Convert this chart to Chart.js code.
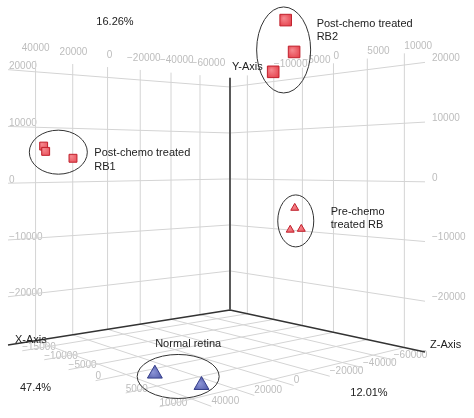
<!DOCTYPE html>
<html>
<head>
<meta charset="utf-8">
<script src="https://cdn.jsdelivr.net/npm/chart.js@4.4.1/dist/chart.umd.min.js"></script>
<style>
  html, body { margin: 0; padding: 0; background: #fff; }
  .chartBox { width: 474px; height: 418px; }
</style>
</head>
<body>
<div class="chartBox"><canvas id="pcaChart"></canvas></div>
<script>
// PCA scores: X = PC1, Y = PC2, Z = PC3
const rb2X = [-21900, -26900, -27300];
const rb2Y = [26000, 21100, 18400];
const rb2Z = [6400, 6400, 3300];

const rb1X = [46000, 45000, 34600];
const rb1Y = [6400, 5500, 4300];
const rb1Z = [-13800, -13800, -12300];

const preX = [-54000, -51000, -58400];
const preY = [-4750, -8600, -8600];
const preZ = [200, 200, 200];

const normalX = [39200, 35200];
const normalY = [-27000, -27000];
const normalZ = [4400, 9900];

const xTicks = [-60000, -40000, -20000, 0, 20000, 40000];
const yTicks = [-20000, -10000, 0, 10000, 20000];
const zTicks = [-15000, -10000, -5000, 0, 5000, 10000];
const zTopTicks = [-10000, -5000, 0, 5000, 10000];

const varianceX = "47.4%";
const varianceY = "16.26%";
const varianceZ = "12.01%";

// extent of the 3D box
const xRange = [-82000, 54000];
const yRange = [-28500, 22000];
const zRange = [-18500, 12600];

// simple perspective camera (screen units = canvas pixels)
const view = {
  origin: [230, 310],
  xEnd: [8, 345], xDepth: 0.81,
  zEnd: [425, 352], zDepth: 0.77,
  yTop: 77.8
};

function project(X, Y, Z) {
  const a = (X - xRange[0]) / (xRange[1] - xRange[0]);
  const b = (Y - yRange[0]) / (yRange[1] - yRange[0]);
  const c = (Z - zRange[0]) / (zRange[1] - zRange[0]);
  const [ox, oy] = view.origin;
  const u = ox + a * (view.xDepth * view.xEnd[0] - ox) + c * (view.zDepth * view.zEnd[0] - ox);
  const v = oy + a * (view.xDepth * view.xEnd[1] - oy) + c * (view.zDepth * view.zEnd[1] - oy) + b * (view.yTop - oy);
  const w = 1 + a * (view.xDepth - 1) + c * (view.zDepth - 1);
  return { x: u / w, y: v / w };
}

function segments(list) {
  const out = [];
  list.forEach(([p, q]) => out.push(p, q, { x: NaN, y: NaN }));
  return out;
}

function cluster(xs, ys, zs) {
  return xs.map((X, i) => project(X, ys[i], zs[i]));
}

const [x0, x1] = xRange, [y0, y1] = yRange, [z0, z1] = zRange;

const gridLines = [];
yTicks.forEach(Y => {
  gridLines.push([project(x0, Y, z0), project(x1, Y, z0)]);
  gridLines.push([project(x0, Y, z0), project(x0, Y, z1)]);
});
xTicks.forEach(X => {
  gridLines.push([project(X, y0, z0), project(X, y1, z0)]);
  gridLines.push([project(X, y0, z0), project(X, y0, z1)]);
});
zTicks.forEach(Z => {
  gridLines.push([project(x0, y0, Z), project(x0, y1, Z)]);
  gridLines.push([project(x0, y0, Z), project(x1, y0, Z)]);
});

const fmt = v => (v < 0 ? "\u2212" : "") + Math.abs(v);

function markerFill(base, light) {
  return (c) => {
    if (!c.raw || !c.chart.chartArea) return base;
    const { x, y } = c.chart.scales;
    const px = x.getPixelForValue(c.raw.x), py = y.getPixelForValue(c.raw.y);
    if (!isFinite(px) || !isFinite(py)) return base;
    const g = c.chart.ctx.createRadialGradient(px - 2, py - 2, 0, px, py, 9);
    g.addColorStop(0, light);
    g.addColorStop(1, base);
    return g;
  };
}
const redFill = markerFill("#e23440", "#f68a90");
const blueFill = markerFill("#4b55a6", "#8e97d8");

const tickLabels = {
  id: "tickLabels",
  beforeDatasetsDraw(chart) {
    const { ctx, scales: { x, y } } = chart;
    const put = (text, p, dx, dy, align) => {
      ctx.textAlign = align;
      ctx.fillText(text, x.getPixelForValue(p.x) + dx, y.getPixelForValue(p.y) + dy);
    };
    ctx.save();
    ctx.font = '10px "Liberation Sans", Arial, sans-serif';
    ctx.fillStyle = "#bdbdbd";
    ctx.textBaseline = "middle";
    yTicks.forEach(Y => {
      put(fmt(Y), project(x1, Y, z0), 1, -3, "left");
      put(fmt(Y), project(x0, Y, z1), 7, -4, "left");
    });
    xTicks.forEach(X => {
      const a = (X - x0) / (x1 - x0);
      put(fmt(X), project(X, y1, z0), 12 * (1 - a) * (1 - a), -12, "center");
      put(fmt(X), project(X, y0, z1), 0, -5, "left");
    });
    zTopTicks.forEach(Z => put(fmt(Z), project(x0, y1, Z), 0, -7, "left"));
    zTicks.forEach(Z => put(fmt(Z), project(x1, y0, Z), 0, -4, "left"));
    ctx.restore();
  }
};

const annotations = {
  id: "annotations",
  afterDatasetsDraw(chart, args, opts) {
    const { ctx, scales: { x, y } } = chart;
    ctx.save();
    ctx.font = '11px "Liberation Sans", Arial, sans-serif';
    ctx.fillStyle = "#222";
    ctx.textBaseline = "middle";
    ctx.textAlign = "left";
    opts.axisTitles.forEach(t => {
      const p = project(...t.at);
      ctx.fillText(t.text, x.getPixelForValue(p.x) + t.dx, y.getPixelForValue(p.y) + t.dy);
    });
    ctx.textAlign = "center";
    opts.variance.forEach(t => ctx.fillText(t.text, t.x, t.y));

    ctx.strokeStyle = "#333";
    ctx.lineWidth = 1;
    opts.rings.forEach(r => {
      const pts = chart.getDatasetMeta(r.dataset).data;
      const xs = pts.map(p => p.x), ys = pts.map(p => p.y);
      const cx = (Math.min(...xs) + Math.max(...xs)) / 2;
      const cy = (Math.min(...ys) + Math.max(...ys)) / 2 + r.shift;
      ctx.beginPath();
      ctx.ellipse(cx, cy, r.rx, r.ry, 0, 0, Math.PI * 2);
      ctx.stroke();
      ctx.textAlign = r.align;
      r.text.forEach((line, i) => ctx.fillText(line, cx + r.dx, cy + r.dy + i * 13.5));
    });
    ctx.restore();
  }
};

new Chart(document.getElementById("pcaChart"), {
  type: "scatter",
  data: {
    datasets: [
      { label: "Post-chemo treated RB2", data: cluster(rb2X, rb2Y, rb2Z), pointStyle: "rect",
        pointRadius: 8.2, pointBackgroundColor: redFill, pointBorderColor: "#c0202c", pointBorderWidth: 1, order: 0 },
      { label: "Post-chemo treated RB1", data: cluster(rb1X, rb1Y, rb1Z), pointStyle: "rect",
        pointRadius: 5.6, pointBackgroundColor: redFill, pointBorderColor: "#c0202c", pointBorderWidth: 1, order: 0 },
      { label: "Pre-chemo treated RB", data: cluster(preX, preY, preZ), pointStyle: "triangle",
        pointRadius: 4.6, pointBackgroundColor: redFill, pointBorderColor: "#c0202c", pointBorderWidth: 1, order: 0 },
      { label: "Normal retina", data: cluster(normalX, normalY, normalZ), pointStyle: "triangle",
        pointRadius: 8.6, pointBackgroundColor: blueFill, pointBorderColor: "#353e8a", pointBorderWidth: 1, order: 0 },
      { label: "Y axis", data: segments([[project(x0, y0, z0), project(x0, y1, z0)]]),
        showLine: true, pointRadius: 0, borderColor: "#5a5a5a", borderWidth: 2, order: 1 },
      { label: "X / Z axes", data: segments([[project(x0, y0, z0), project(x1, y0, z0)], [project(x0, y0, z0), project(x0, y0, z1)]]),
        showLine: true, pointRadius: 0, borderColor: "#333", borderWidth: 1.4, order: 1 },
      { label: "grid", data: segments(gridLines),
        showLine: true, pointRadius: 0, borderColor: "#d4d4d4", borderWidth: 1, order: 2 }
    ]
  },
  options: {
    responsive: true,
    maintainAspectRatio: false,
    animation: false,
    layout: { padding: 0, autoPadding: false },
    scales: {
      x: { type: "linear", min: 0, max: 474, display: false },
      y: { type: "linear", min: 0, max: 418, reverse: true, display: false }
    },
    plugins: {
      legend: { display: false },
      tooltip: { enabled: false },
      annotations: {
        axisTitles: [
          { text: "X-Axis", at: [x1, y0, z0], dx: 7, dy: -5 },
          { text: "Y-Axis", at: [x0, y1, z0], dx: 2, dy: -11 },
          { text: "Z-Axis", at: [x0, y0, z1], dx: 5, dy: -7 }
        ],
        variance: [
          { text: varianceY, x: 115, y: 22 },
          { text: varianceX, x: 35.5, y: 388 },
          { text: varianceZ, x: 369, y: 393 }
        ],
        rings: [
          { dataset: 0, rx: 27, ry: 43, shift: 4, text: ["Post-chemo treated", "RB2"], dx: 33, dy: -26, align: "left" },
          { dataset: 1, rx: 29, ry: 22, shift: 0, text: ["Post-chemo treated", "RB1"], dx: 36, dy: 1, align: "left" },
          { dataset: 2, rx: 18, ry: 26, shift: 2, text: ["Pre-chemo", "treated RB"], dx: 35, dy: -9, align: "left" },
          { dataset: 3, rx: 41, ry: 22, shift: -3, text: ["Normal retina"], dx: 10, dy: -33, align: "center" }
        ]
      }
    }
  },
  plugins: [tickLabels, annotations]
});
</script>
</body>
</html>
